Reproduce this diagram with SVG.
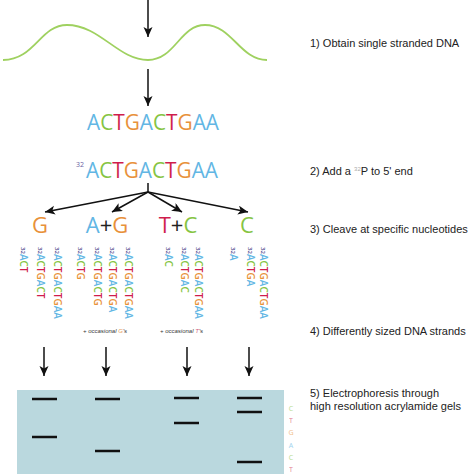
<svg xmlns="http://www.w3.org/2000/svg" width="474" height="474" viewBox="0 0 474 474">
<style>
.A{fill:#62b6e4}.C{fill:#86c443}.T{fill:#cf1d4c}.G{fill:#e8913a}
.seq{font-family:"Open Sans","DejaVu Sans",sans-serif;font-size:22px}
.s{font-family:"Open Sans","DejaVu Sans",sans-serif;font-size:10px;font-weight:600}
.sup{fill:#55508f;font-size:6px}
.lab{font-family:"Liberation Sans",Arial,sans-serif;font-size:11px;fill:#222}
.occ{font-family:"Liberation Sans",Arial,sans-serif;font-size:6px;font-style:italic;fill:#333}
.ln{stroke:#111;stroke-width:1.5;fill:none}
.band{stroke:#111;stroke-width:2.5}
.gl{font-family:"Open Sans","DejaVu Sans",sans-serif;font-size:7px;text-anchor:middle;opacity:0.6}
</style>
<defs>
<marker id="ah" markerUnits="userSpaceOnUse" markerWidth="12" markerHeight="10" refX="10" refY="4.5" orient="auto">
<path d="M0,0 L10,4.5 L0,9 L2.5,4.5 z" fill="#111"/>
</marker>
</defs>
<g id="connectors">
<line class="ln" x1="148" y1="0" x2="148" y2="37" marker-end="url(#ah)"/>
<line class="ln" x1="148" y1="69" x2="148" y2="106" marker-end="url(#ah)"/>
<line class="ln" x1="148" y1="183" x2="148" y2="192"/>
<line class="ln" x1="148" y1="192" x2="45" y2="212" marker-end="url(#ah)"/>
<line class="ln" x1="148" y1="192" x2="112" y2="212" marker-end="url(#ah)"/>
<line class="ln" x1="148" y1="192" x2="182" y2="212" marker-end="url(#ah)"/>
<line class="ln" x1="148" y1="192" x2="248" y2="212" marker-end="url(#ah)"/>
<line class="ln" x1="44" y1="347" x2="44" y2="376" marker-end="url(#ah)"/>
<line class="ln" x1="106" y1="347" x2="106" y2="376" marker-end="url(#ah)"/>
<line class="ln" x1="187" y1="347" x2="187" y2="376" marker-end="url(#ah)"/>
<line class="ln" x1="249" y1="347" x2="249" y2="376" marker-end="url(#ah)"/>
</g>
<g id="dna">
<path d="M3,60 C35,60 40,25 67,25 C100,25 118,60 148,60 C175,60 180,25 205,25 C232,25 240,60 267,60" fill="none" stroke="#9fd160" stroke-width="1.8"/>
</g>
<g id="seq1">
<text class="seq" x="87" y="130" textLength="132" lengthAdjust="spacingAndGlyphs"><tspan class="A">A</tspan><tspan class="C">C</tspan><tspan class="T">T</tspan><tspan class="G">G</tspan><tspan class="A">A</tspan><tspan class="C">C</tspan><tspan class="T">T</tspan><tspan class="G">G</tspan><tspan class="A">A</tspan><tspan class="A">A</tspan></text>
</g>
<g id="seq2">
<text x="76" y="167" style="font-family:'Open Sans',sans-serif;font-size:7px;fill:#6b5fa3">32</text>
<text class="seq" x="86" y="178" textLength="132" lengthAdjust="spacingAndGlyphs"><tspan class="A">A</tspan><tspan class="C">C</tspan><tspan class="T">T</tspan><tspan class="G">G</tspan><tspan class="A">A</tspan><tspan class="C">C</tspan><tspan class="T">T</tspan><tspan class="G">G</tspan><tspan class="A">A</tspan><tspan class="A">A</tspan></text>
</g>
<g id="lanes">
<text class="seq" x="40" y="233" text-anchor="middle"><tspan class="G">G</tspan></text>
<text class="seq" x="107" y="233" text-anchor="middle"><tspan class="A">A</tspan><tspan fill="#222">+</tspan><tspan class="G">G</tspan></text>
<text class="seq" x="178" y="233" text-anchor="middle"><tspan class="T">T</tspan><tspan fill="#222">+</tspan><tspan class="C">C</tspan></text>
<text class="seq" x="247" y="233" text-anchor="middle"><tspan class="C">C</tspan></text>
</g>
<g id="strands">
<text class="s" transform="translate(19.5,247) rotate(90)"><tspan class="sup" dy="-1">32</tspan><tspan dy="1" class="A">A</tspan><tspan class="C">C</tspan><tspan class="T">T</tspan></text>
<text class="s" transform="translate(36.5,247) rotate(90)"><tspan class="sup" dy="-1">32</tspan><tspan dy="1" class="A">A</tspan><tspan class="C">C</tspan><tspan class="T">T</tspan><tspan class="G">G</tspan><tspan class="A">A</tspan><tspan class="C">C</tspan><tspan class="T">T</tspan></text>
<text class="s" transform="translate(53.5,247) rotate(90)"><tspan class="sup" dy="-1">32</tspan><tspan dy="1" class="A">A</tspan><tspan class="C">C</tspan><tspan class="T">T</tspan><tspan class="G">G</tspan><tspan class="A">A</tspan><tspan class="C">C</tspan><tspan class="T">T</tspan><tspan class="G">G</tspan><tspan class="A">A</tspan><tspan class="A">A</tspan></text>
<text class="s" transform="translate(77,247) rotate(90)"><tspan class="sup" dy="-1">32</tspan><tspan dy="1" class="A">A</tspan><tspan class="C">C</tspan><tspan class="T">T</tspan><tspan class="G">G</tspan></text>
<text class="s" transform="translate(93.5,247) rotate(90)"><tspan class="sup" dy="-1">32</tspan><tspan dy="1" class="A">A</tspan><tspan class="C">C</tspan><tspan class="T">T</tspan><tspan class="G">G</tspan><tspan class="A">A</tspan><tspan class="C">C</tspan><tspan class="T">T</tspan><tspan class="G">G</tspan></text>
<text class="s" transform="translate(108.5,247) rotate(90)"><tspan class="sup" dy="-1">32</tspan><tspan dy="1" class="A">A</tspan><tspan class="C">C</tspan><tspan class="T">T</tspan><tspan class="G">G</tspan><tspan class="A">A</tspan><tspan class="C">C</tspan><tspan class="T">T</tspan><tspan class="G">G</tspan><tspan class="A">A</tspan></text>
<text class="s" transform="translate(124.5,247) rotate(90)"><tspan class="sup" dy="-1">32</tspan><tspan dy="1" class="A">A</tspan><tspan class="C">C</tspan><tspan class="T">T</tspan><tspan class="G">G</tspan><tspan class="A">A</tspan><tspan class="C">C</tspan><tspan class="T">T</tspan><tspan class="G">G</tspan><tspan class="A">A</tspan><tspan class="A">A</tspan></text>
<text class="s" transform="translate(164.5,247) rotate(90)"><tspan class="sup" dy="-1">32</tspan><tspan dy="1" class="A">A</tspan><tspan class="C">C</tspan></text>
<text class="s" transform="translate(180.5,247) rotate(90)"><tspan class="sup" dy="-1">32</tspan><tspan dy="1" class="A">A</tspan><tspan class="C">C</tspan><tspan class="T">T</tspan><tspan class="G">G</tspan><tspan class="A">A</tspan><tspan class="C">C</tspan></text>
<text class="s" transform="translate(194.5,247) rotate(90)"><tspan class="sup" dy="-1">32</tspan><tspan dy="1" class="A">A</tspan><tspan class="C">C</tspan><tspan class="T">T</tspan><tspan class="G">G</tspan><tspan class="A">A</tspan><tspan class="C">C</tspan><tspan class="T">T</tspan><tspan class="G">G</tspan><tspan class="A">A</tspan><tspan class="A">A</tspan></text>
<text class="s" transform="translate(229.5,247) rotate(90)"><tspan class="sup" dy="-1">32</tspan><tspan dy="1" class="A">A</tspan></text>
<text class="s" transform="translate(246.5,247) rotate(90)"><tspan class="sup" dy="-1">32</tspan><tspan dy="1" class="A">A</tspan><tspan class="C">C</tspan><tspan class="T">T</tspan><tspan class="G">G</tspan><tspan class="A">A</tspan></text>
<text class="s" transform="translate(259.5,247) rotate(90)"><tspan class="sup" dy="-1">32</tspan><tspan dy="1" class="A">A</tspan><tspan class="C">C</tspan><tspan class="T">T</tspan><tspan class="G">G</tspan><tspan class="A">A</tspan><tspan class="C">C</tspan><tspan class="T">T</tspan><tspan class="G">G</tspan><tspan class="A">A</tspan><tspan class="A">A</tspan></text>
<text class="occ" x="83" y="333">+ occasional <tspan fill="#e8a060">G</tspan>'s</text>
<text class="occ" x="160" y="333">+ occasional <tspan fill="#d06080">T</tspan>'s</text>
</g>
<g id="gel">
<rect x="17" y="390" width="267" height="84" fill="#bad8de"/>
<line class="band" x1="32" y1="399" x2="57" y2="399"/>
<line class="band" x1="32" y1="437" x2="57" y2="437"/>
<line class="band" x1="95" y1="399" x2="120" y2="399"/>
<line class="band" x1="95" y1="451" x2="120" y2="451"/>
<line class="band" x1="174" y1="398" x2="199" y2="398"/>
<line class="band" x1="174" y1="423" x2="199" y2="423"/>
<line class="band" x1="237" y1="398" x2="262" y2="398"/>
<line class="band" x1="237" y1="412" x2="262" y2="412"/>
<line class="band" x1="237" y1="462" x2="262" y2="462"/>
<text class="gl C" x="291" y="411">C</text>
<text class="gl T" x="291" y="423">T</text>
<text class="gl G" x="291" y="435">G</text>
<text class="gl A" x="291" y="448">A</text>
<text class="gl C" x="291" y="460">C</text>
<text class="gl T" x="291" y="472">T</text>
</g>
<g id="steps">
<text class="lab" x="310" y="47">1) Obtain single stranded DNA</text>
<text class="lab" x="310" y="175">2) Add a <tspan font-size="6" fill="#aaa" dy="-4">32</tspan><tspan dy="4">P to 5' end</tspan></text>
<text class="lab" x="310" y="233">3) Cleave at specific nucleotides</text>
<text class="lab" x="310" y="335">4) Differently sized DNA strands</text>
<text class="lab" x="310" y="397">5) Electrophoresis through</text>
<text class="lab" x="310" y="410">high resolution acrylamide gels</text>
</g>
</svg>
